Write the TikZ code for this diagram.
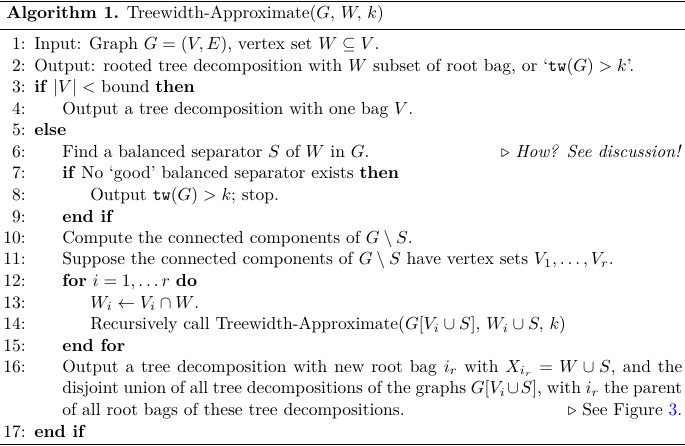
\documentclass[tikz,border=0pt]{standalone}
\usepackage{amsmath,amssymb,xcolor}
\begin{document}
\begin{tikzpicture}[x=0.572pt,y=-0.572pt,
  ln/.style={anchor=base east,inner sep=0pt},
  tx/.style={anchor=base west,inner sep=0pt}]
\useasboundingbox (0,0) rectangle (685,446);
\draw[line width=0.8pt] (0,1.5) -- (685,1.5);
\draw[line width=0.5pt] (0,29) -- (685,29);
\draw[line width=0.8pt] (0,444.5) -- (685,444.5);
\node[tx] (h) at (6,19) {\textbf{Algorithm 1.} Treewidth-Approximate$(G,\,W,\,k)$};
\foreach \n/\r in {1/1,2/2,3/3,4/4,5/5,6/6,7/7,8/8,9/9,10/10,11/11,12/12,13/13,14/14,15/15,16/16,17/19}
  \node[ln] (n\n) at (26,{50+21.5*(\r-1)}) {\n:};
\node[tx] (l1) at (34,50) {Input: Graph $G=(V,E)$, vertex set $W\subseteq V$.};
\node[tx] (l2) at (34,71.5) {Output: rooted tree decomposition with $W$ subset of root bag, or `$\texttt{tw}(G)>k$'.};
\node[tx] (l3) at (34,93) {\textbf{if} $|V|<$ bound \textbf{then}};
\node[tx] (l4) at (62,114.5) {Output a tree decomposition with one bag $V$.};
\node[tx] (l5) at (34,136) {\textbf{else}};
\node[tx] (l6) at (62,157.5) {Find a balanced separator $S$ of $W$ in $G$.};
\node[anchor=base east,inner sep=0pt] (c6) at (682,157.5) {$\triangleright$ \textit{How? See discussion!}};
\node[tx] (l7) at (62,179) {\textbf{if} No `good' balanced separator exists \textbf{then}};
\node[tx] (l8) at (90,200.5) {Output $\texttt{tw}(G)>k$; stop.};
\node[tx] (l9) at (62,222) {\textbf{end if}};
\node[tx] (l10) at (62,243.5) {Compute the connected components of $G\setminus S$.};
\node[tx] (l11) at (62,265) {Suppose the connected components of $G\setminus S$ have vertex sets $V_1,\ldots,V_r$.};
\node[tx] (l12) at (62,286.5) {\textbf{for} $i=1,\ldots r$ \textbf{do}};
\node[tx] (l13) at (90,308) {$W_i\leftarrow V_i\cap W$.};
\node[tx] (l14) at (90,329.5) {Recursively call Treewidth-Approximate$(G[V_i\cup S],\,W_i\cup S,\,k)$};
\node[tx] (l15) at (62,351) {\textbf{end for}};
\node[anchor=base west,inner sep=0pt] (l16) at (62,372) {\parbox[t]{354.6pt}{\baselineskip=12.3pt
Output a tree decomposition with new root bag $i_r$ with $X_{i_r}=W\cup S$, and the\linebreak disjoint union of all tree decompositions of the graphs $G[V_i\cup S]$, with $i_r$ the parent\linebreak of all root bags of these tree decompositions.\hfill $\triangleright$ See Figure \textcolor{blue}{3}.}};
\node[tx] (l17) at (34,437) {\textbf{end if}};
\end{tikzpicture}
\end{document}
